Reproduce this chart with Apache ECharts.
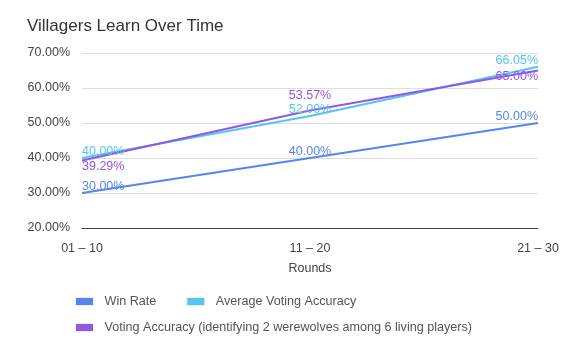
<!DOCTYPE html>
<html>
<head>
<meta charset="utf-8">
<script src="https://cdn.jsdelivr.net/npm/echarts@6/dist/echarts.min.js"></script>
<style>html,body{margin:0;padding:0;background:#fff}#c{width:565px;height:358px}</style>
</head>
<body>
<div id="c"></div>
<script>
const categories = ['01 – 10', '11 – 20', '21 – 30'];
const winRate = [30.00, 40.00, 50.00];
const avgVoting = [40.00, 52.00, 66.05];
const votingAcc = [39.29, 53.57, 65.00];
const seriesNames = ['Win Rate', 'Average Voting Accuracy', 'Voting Accuracy (identifying 2 werewolves among 6 living players)'];
const colors = ['#5586ee', '#55c5f0', '#9157e5'];
const labelBelow = [[false, false, false], [false, false, false], [true, false, true]];
const labelLift = [[0, 0, 0], [0, 0, 0], [0, 8, 0]];

const FONT = 'Liberation Sans, Arial, sans-serif';
function mk(values, si) {
  return values.map((v, i) => ({
    value: v,
    label: {
      show: true,
      position: labelBelow[si][i] ? 'bottom' : 'top',
      distance: labelLift[si][i],
      align: i === 0 ? 'left' : (i === values.length - 1 ? 'right' : 'center')
    }
  }));
}
const allVals = [winRate, avgVoting, votingAcc];
const chart = echarts.init(document.getElementById('c'), null, {renderer: 'canvas'});
chart.setOption({
  animation: false,
  color: colors,
  title: {
    text: 'Villagers Learn Over Time',
    left: 22, top: 13,
    textStyle: {fontFamily: FONT, fontSize: 17, fontWeight: 'normal', color: '#333'}
  },
  grid: {left: 82, right: 27, top: 53, bottom: 130, containLabel: false},
  xAxis: {
    type: 'category', data: categories, boundaryGap: false,
    name: 'Rounds', nameLocation: 'middle', nameGap: 34,
    nameTextStyle: {fontFamily: FONT, fontSize: 12.5, color: '#444'},
    axisLine: {lineStyle: {color: '#444'}},
    axisTick: {show: false},
    axisLabel: {fontFamily: FONT, fontSize: 12.5, color: '#444', margin: 14}
  },
  yAxis: {
    type: 'value', min: 20, max: 70, interval: 10,
    axisLine: {show: false}, axisTick: {show: false},
    splitLine: {lineStyle: {color: '#ddd'}},
    axisLabel: {fontFamily: FONT, fontSize: 12.5, color: '#444', margin: 12,
      formatter: v => v.toFixed(2) + '%'}
  },
  legend: [
    {
      data: [seriesNames[0], seriesNames[1]], left: 70, top: 290,
      itemWidth: 18, itemHeight: 8, itemGap: 30, icon: 'rect',
      itemStyle: {borderColor: '#eee', borderWidth: 1},
      textStyle: {fontFamily: FONT, fontSize: 12.6, color: '#555', padding: [0, 0, 0, 6]}
    },
    {
      data: [seriesNames[2]], left: 70, top: 316,
      itemWidth: 18, itemHeight: 8, icon: 'rect',
      itemStyle: {borderColor: '#eee', borderWidth: 1},
      textStyle: {fontFamily: FONT, fontSize: 12.6, color: '#555', padding: [0, 0, 0, 6]}
    }
  ],
  series: allVals.map((vals, si) => ({
    name: seriesNames[si], type: 'line', data: mk(vals, si),
    symbol: 'circle', symbolSize: 0, showSymbol: true,
    lineStyle: {width: 2, color: colors[si]},
    itemStyle: {color: colors[si]},
    label: {show: true, fontFamily: FONT, fontSize: 12.5, color: colors[si],
      formatter: p => p.value.toFixed(2) + '%'},
    z: si === 0 ? 2 : 3
  }))
});
</script>
</body>
</html>
